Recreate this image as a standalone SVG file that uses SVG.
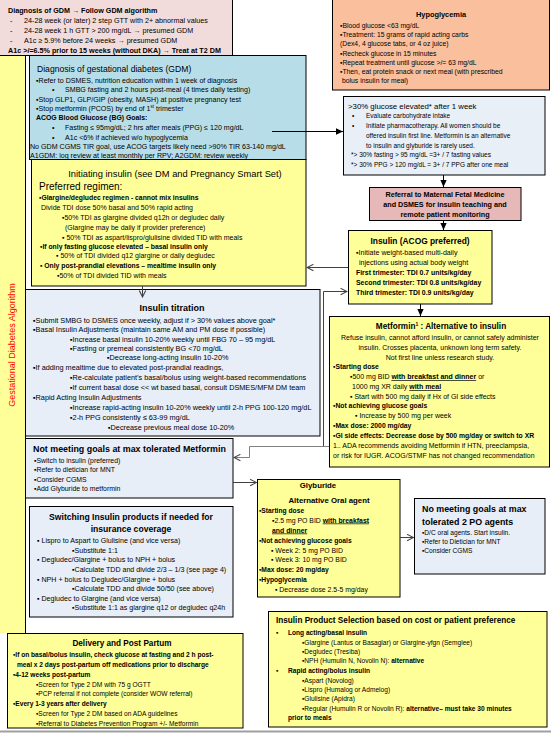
<svg xmlns="http://www.w3.org/2000/svg" width="551" height="734" viewBox="0 0 551 734">
<style>
text{font-family:"Liberation Sans",Arial,sans-serif;fill:#000}
.b{font-weight:bold}
.c{text-anchor:middle}
.u{text-decoration:underline}
.bx{stroke:#000;stroke-width:1}
.y{fill:#ffff99}
.lb{fill:#e7eef7}
.cn{fill:none;stroke:#404040;stroke-width:1}
.cs{fill:none;stroke:#000;stroke-width:1}
</style>
<defs>
<marker id="ao" viewBox="0 0 10 10" refX="9" refY="5" markerWidth="8" markerHeight="8" orient="auto" markerUnits="userSpaceOnUse"><path d="M1,1 L9,5 L1,9" fill="none" stroke="#404040" stroke-width="1.3"/></marker>
<marker id="as" viewBox="0 0 10 10" refX="10" refY="5" markerWidth="7" markerHeight="7" orient="auto" markerUnits="userSpaceOnUse"><path d="M0,0.5 L10,5 L0,9.5 z" fill="#000"/></marker>
</defs>
<rect width="551" height="734" fill="#fff"/>

<g id="strip">
<rect x="0" y="55" width="25.5" height="578" class="y"/>
<line x1="25.5" y1="55" x2="25.5" y2="633" stroke="#000"/>
<text transform="translate(15,345) rotate(-90)" class="c" font-size="9" style="fill:#ff0000">Gestational Diabetes Algorithm</text>
</g>

<g id="diag-gdm" font-size="7.2">
<rect x="-1" y="-1" width="233.5" height="56.5" fill="#f2dcdb" class="bx"/>
<text x="8" y="12.5" class="b">Diagnosis of GDM → Follow GDM algorithm</text>
<text x="10" y="23">-</text><text x="24" y="23">24-28 week (or later) 2 step GTT with 2+ abnormal values</text>
<text x="10" y="32.5">-</text><text x="24" y="32.5">24-28 week 1 h GTT &gt; 200 mg/dL → presumed GDM</text>
<text x="10" y="42.5">-</text><text x="24" y="42.5">A1c ≥ 5.9% before 24 weeks → presumed GDM</text>
<text x="8" y="53" class="b">A1c &gt;/=6.5% prior to 15 weeks (without DKA) → Treat at T2 DM</text>
</g>

<g id="hypoglycemia" font-size="6.8">
<rect x="332.5" y="-1" width="217" height="91" fill="#fac09e" class="bx"/>
<text x="441" y="17" class="b c" font-size="7.4">Hypoglycemia</text>
<text x="340" y="27.5">▪Blood glucose &lt;63 mg/dL</text>
<text x="340" y="36.5">▪Treatment:  15 grams of rapid acting carbs</text>
<text x="340" y="46">(Dex4, 4 glucose tabs, or 4 oz juice)</text>
<text x="340" y="55.5">▪Recheck glucose in 15 minutes</text>
<text x="340" y="64.5">▪Repeat treatment until glucose &gt;/= 63 mg/dL</text>
<text x="340" y="73.5">▪Then, eat protein snack or next meal (with prescribed</text>
<text x="342" y="82.5">bolus insulin for meal)</text>
</g>

<g id="gdm" font-size="7.1">
<rect x="29.5" y="55.5" width="276.5" height="104" fill="#b7dee8" class="bx"/>
<text x="37" y="72" font-size="8.6">Diagnosis of gestational diabetes (GDM)</text>
<text x="36" y="82.5">▪Refer to DSMES, nutrition education within 1 week of diagnosis</text>
<text x="52" y="91.5">•</text><text x="65" y="91.5">SMBG fasting and 2 hours post-meal (4 times daily testing)</text>
<text x="36" y="101.5">▪Stop GLP1, GLP/GIP (obesity, MASH)  at positive pregnancy test</text>
<text x="36" y="110.5">▪Stop metformin (PCOS) by end of 1<tspan font-size="4.5" dy="-2.5">st</tspan><tspan dy="2.5"> trimester</tspan></text>
<text x="36" y="120" class="b" font-size="6.9">ACOG Blood Glucose (BG) Goals:</text>
<text x="52" y="129.5">•</text><text x="65" y="129.5">Fasting ≤ 95mg/dL; 2 hrs after meals (PPG) ≤ 120 mg/dL</text>
<text x="52" y="139.5">•</text><text x="65" y="139.5">A1c &lt;6% if achieved w/o hypoglycemia</text>
<text x="30" y="148.5">No GDM CGMS TIR goal, use ACOG targets likely need &gt;90% TIR  63-140 mg/dL</text>
<text x="30" y="157.5">A1GDM: log review at least monthly per RPV; A2GDM:  review weekly</text>
</g>

<g id="elevated" font-size="6.5">
<rect x="343.5" y="96.5" width="201.5" height="78.5" fill="#e9eff7" class="bx"/>
<text x="348" y="109" font-size="7.8">&gt;30% glucose elevated* after 1 week</text>
<text x="352" y="117.5">•</text><text x="366" y="117.5">Evaluate carbohydrate intake</text>
<text x="352" y="128">•</text><text x="366" y="128">Initiate pharmacotherapy.  All women should be</text>
<text x="366" y="138">offered insulin first line.  Metformin is an alternative</text>
<text x="366" y="147.5">to insulin and glyburide is rarely used.</text>
<text x="351" y="157">*&gt; 30% fasting &gt; 95 mg/dL  =3+ /  7 fasting values</text>
<text x="351" y="167">*&gt; 30% PPG &gt; 120 mg/dL  = 3+ / 7 PPG after one meal</text>
</g>

<g id="referral" font-size="7.2">
<rect x="369.5" y="187.5" width="151.5" height="33" fill="#e6b9b8" class="bx"/>
<text x="445" y="197" class="b c">Referral to Maternal Fetal Medicine</text>
<text x="445" y="207" class="b c">and DSMES for insulin teaching and</text>
<text x="445" y="217" class="b c">remote patient monitoring</text>
</g>

<g id="initiating" font-size="7">
<rect x="31.5" y="159.5" width="274.5" height="126.5" class="y bx"/>
<text x="175" y="177" class="c" font-size="9.3">Initiating insulin (see DM and Pregnancy Smart Set)</text>
<text x="39" y="189.5" font-size="10">Preferred regimen:</text>
<text x="39" y="199.5" class="b" font-size="6.8">▪Glargine/degludec regimen - cannot mix insulins</text>
<text x="41" y="210">Divide TDI dose 50% basal and 50% rapid acting</text>
<text x="62" y="219.5">▪50% TDI as glargine divided q12h or degludec daily</text>
<text x="65" y="229.5">(Glargine may be daily if provider preference)</text>
<text x="62" y="239.5">▪ 50% TDI as aspart/lispro/glulisine divided TID with meals</text>
<text x="40" y="248.5" class="b" font-size="6.8">▪If only fasting glucose elevated – basal insulin only</text>
<text x="56" y="257.5">▪ 50% of TDI divided q12 glargine or daily degludec</text>
<text x="40" y="267.5" class="b" font-size="6.8">▪ Only post-prandial elevations – mealtime insulin only</text>
<text x="57" y="277.5">▪50% of TDI divided TID with meals</text>
</g>

<g id="insulin-acog" font-size="7.1">
<rect x="348.5" y="230.5" width="143.5" height="73.5" class="y bx"/>
<text x="420" y="244" class="b c" font-size="8.4">Insulin (ACOG preferred)</text>
<text x="356" y="254.5">▪Initiate weight-based multi-daily</text>
<text x="359" y="264.5">injections using actual body weight</text>
<text x="356" y="274.5" class="b" font-size="6.9">First trimester: TDI 0.7 units/kg/day</text>
<text x="356" y="284.5" class="b" font-size="6.9">Second trimester: TDI 0.8 units/kg/day</text>
<text x="356" y="294.5" class="b" font-size="6.9">Third trimester: TDI 0.9 units/kg/day</text>
</g>

<g id="titration" font-size="7.3">
<rect x="25.5" y="289.5" width="294.5" height="146.5" class="lb bx"/>
<text x="172" y="311" class="b c" font-size="9">Insulin titration</text>
<text x="33" y="322.5">▪Submit SMBG to DSMES once weekly, adjust if &gt; 30% values above goal*</text>
<text x="33" y="331.5">▪Basal Insulin Adjustments (maintain same AM and PM dose if possible)</text>
<text x="70" y="341.5">▪Increase basal insulin 10-20%  weekly until FBG 70 – 95 mg/dL</text>
<text x="70" y="350.5">▪Fasting or premeal  consistently BG &lt;70 mg/dL</text>
<text x="107" y="359.5">▪Decrease long-acting insulin 10-20%</text>
<text x="33" y="370">▪If adding mealtime due to elevated post-prandial readings,</text>
<text x="70" y="380">▪Re-calculate patient’s basal/bolus using weight-based recommendations</text>
<text x="70" y="389.5">▪If current basal dose &lt;&lt; wt based basal, consult DSMES/MFM DM team</text>
<text x="33" y="399.5">▪Rapid Acting Insulin Adjustments</text>
<text x="70" y="409.5">▪Increase rapid-acting insulin 10-20% weekly until 2-h PPG 100-120 mg/dL</text>
<text x="70" y="419.5">▪2-h PPG consistently ≤ 63-99 mg/dL</text>
<text x="108" y="429.5">▪Decrease previous meal dose 10-20%</text>
</g>

<g id="metformin" font-size="7">
<rect x="329.5" y="316.5" width="220" height="150.5" class="y bx"/>
<text x="441" y="329" class="b c" font-size="8.2">Metformin<tspan font-size="5" dy="-3">1</tspan><tspan dy="3"> : Alternative to insulin</tspan></text>
<text x="440" y="339.5" class="c">Refuse insulin, cannot afford insulin, or cannot safely administer</text>
<text x="440" y="349.5" class="c">insulin.  Crosses placenta, unknown long term safety.</text>
<text x="440" y="359.5" class="c">Not first line unless research study.</text>
<text x="333" y="368.5" class="b" font-size="6.8">▪Starting dose</text>
<text x="350" y="379">▪500 mg BID <tspan class="b u">with breakfast and dinner</tspan> or</text>
<text x="352" y="389">1000 mg XR daily <tspan class="b u">with meal</tspan></text>
<text x="350" y="398.5">▪ Start with 500 mg daily if Hx of GI side effects</text>
<text x="333" y="408" class="b" font-size="6.8">▪Not achieving glucose goals</text>
<text x="355" y="417.5">▪ Increase by 500 mg  per week</text>
<text x="333" y="427.5" class="b" font-size="6.8">▪Max dose: 2000 mg/day</text>
<text x="333" y="437.5" class="b" font-size="6.8">▪GI side effects: Decrease dose by 500 mg/day or switch to XR</text>
<text x="333" y="447.5">1.. ADA recommends avoiding Metformin if HTN, preeclampsia,</text>
<text x="333" y="457.5">or risk for IUGR.  ACOG/STMF has not changed recommendation</text>
</g>

<g id="not-meeting-metformin" font-size="6.9">
<rect x="25.5" y="438.5" width="207.5" height="59.5" class="lb bx"/>
<text x="33" y="452" class="b" font-size="8.9">Not meeting goals at max tolerated Metformin</text>
<text x="34" y="462.5">▪Switch to insulin (preferred)</text>
<text x="34" y="472">▪Refer to dietician for MNT</text>
<text x="34" y="481.5">▪Consider CGMS</text>
<text x="34" y="491">▪Add Glyburide to metformin</text>
</g>

<g id="glyburide" font-size="6.9">
<rect x="257.5" y="479.5" width="142.5" height="117.5" class="y bx"/>
<text x="318" y="488" class="b c" font-size="7.8">Glyburide</text>
<text x="329" y="503" class="b c" font-size="7.8">Alternative Oral agent</text>
<text x="259" y="512.5" class="b" font-size="6.7">▪Starting dose</text>
<text x="272" y="522.5">▪2.5 mg PO BID <tspan class="b u">with breakfast </tspan></text>
<text x="272" y="532.5" class="b u">and dinner</text>
<text x="259" y="542.5" class="b" font-size="6.7">▪Not achieving glucose goals</text>
<text x="271" y="552.5">▪ Week 2: 5 mg PO BID</text>
<text x="271" y="562">▪ Week 3: 10 mg PO BID</text>
<text x="259" y="571.5" class="b" font-size="6.7">▪Max dose: 20 mg/day</text>
<text x="259" y="581.5" class="b" font-size="6.7">▪Hypoglycemia</text>
<text x="275" y="591.5">▪ Decrease dose 2.5-5 mg/day</text>
</g>

<g id="no-meeting-po" font-size="6.6">
<rect x="414.5" y="498.5" width="130.5" height="75.5" class="lb bx"/>
<text x="422" y="512" class="b" font-size="8.9">No meeting goals at max</text>
<text x="422" y="525" class="b" font-size="8.9">tolerated 2 PO agents</text>
<text x="422" y="535">▪D/C oral agents.  Start insulin.</text>
<text x="422" y="544">▪Refer to Dietician for MNT</text>
<text x="422" y="553">▪Consider CGMS</text>
</g>

<g id="switching" font-size="7.1">
<rect x="29.5" y="506.5" width="203.5" height="110.5" class="lb bx"/>
<text x="131" y="520" class="b c" font-size="8.6">Switching Insulin products if needed for</text>
<text x="131" y="532" class="b c" font-size="8.6">insurance coverage</text>
<text x="37" y="542.5">▪ Lispro to Aspart to Glulisine (and vice versa)</text>
<text x="72" y="552.5">▪Substitute 1:1</text>
<text x="37" y="562">▪ Degludec/Glargine + bolus to NPH + bolus</text>
<text x="72" y="571.5">▪Calculate TDD and divide 2/3 – 1/3 (see page 4)</text>
<text x="37" y="581.5">▪ NPH + bolus to Degludec/Glargine + bolus</text>
<text x="72" y="590.5">▪Calculate TDD and divide 50/50 (see above)</text>
<text x="37" y="600.5">▪ Degludec to Glargine (and vice versa)</text>
<text x="72" y="609.5">▪Substitute 1:1 as glargine q12 or degludec q24h</text>
</g>

<g id="delivery" font-size="6.6">
<rect x="7.5" y="633.5" width="235.5" height="94.5" class="y bx"/>
<text x="122" y="646" class="b c" font-size="8.2">Delivery and Post Partum</text>
<text x="13" y="656.5" class="b">▪If on basal/bolus insulin, check glucose at fasting and 2 h post-</text>
<text x="17" y="666.5" class="b">meal x 2 days post-partum off medications prior to discharge</text>
<text x="13" y="676.5" class="b">▪4-12 weeks post-partum</text>
<text x="36" y="686.5">▪Screen for Type 2 DM with 75 g OGTT</text>
<text x="36" y="695.5">▪PCP referral if not complete (consider WOW referral)</text>
<text x="13" y="705.5" class="b">▪Every 1-3 years after delivery</text>
<text x="36" y="715.5">▪Screen for Type 2 DM based on ADA guidelines</text>
<text x="36" y="725.5">▪Referral to Diabetes Prevention Program +/- Metformin</text>
</g>

<g id="product-selection" font-size="6.6">
<rect x="268.5" y="611.5" width="278.5" height="115.5" class="y bx"/>
<text x="276" y="623" class="b" font-size="8.2">Insulin Product Selection based on cost or patient preference</text>
<text x="276" y="634.5">▪</text><text x="288" y="634.5" class="b">Long acting/basal insulin</text>
<text x="302" y="645">▪Glargine (Lantus or Basaglar) or Glargine-yfgn (Semglee)</text>
<text x="302" y="654">▪Degludec (Tresiba)</text>
<text x="302" y="663">▪NPH (Humulin N, Novolin N): <tspan class="b">alternative</tspan></text>
<text x="276" y="673">▪</text><text x="288" y="673" class="b">Rapid acting/bolus insulin</text>
<text x="302" y="682.5">▪Aspart (Novolog)</text>
<text x="302" y="691.5">▪Lispro (Humalog or Admelog)</text>
<text x="302" y="701">▪Glulisine (Apidra)</text>
<text x="302" y="710.5">▪Regular (Humulin R or Novolin R): <tspan class="b">alternative– must  take 30 minutes</tspan></text>
<text x="288" y="719.5" class="b">prior to meals</text>
</g>

<g id="connectors">
<path class="cs" d="M272 131.5 H343" marker-end="url(#as)"/>
<path class="cs" d="M443.5 175 V187" marker-end="url(#as)"/>
<path class="cs" d="M443.5 221 V230" marker-end="url(#as)"/>
<path class="cs" d="M420.5 304 V316" marker-end="url(#as)"/>
<path class="cn" d="M348 267.5 H307" marker-end="url(#ao)"/>
<path class="cn" d="M142.5 286 V297" marker-end="url(#ao)"/>
<path class="cn" d="M323.5 446 V291.5 H347" marker-end="url(#ao)"/>
<path class="cn" d="M329 446.5 H249.5 V457.5 H234" marker-end="url(#ao)" style="stroke:#808080"/>
<path class="cn" d="M233 482.5 H256.5" marker-end="url(#ao)"/>
<path class="cn" d="M400 537.5 H413.5" marker-end="url(#ao)"/>
</g>
<line x1="0" y1="731.5" x2="551" y2="731.5" stroke="#a0a0a0" stroke-width="2"/>
</svg>
